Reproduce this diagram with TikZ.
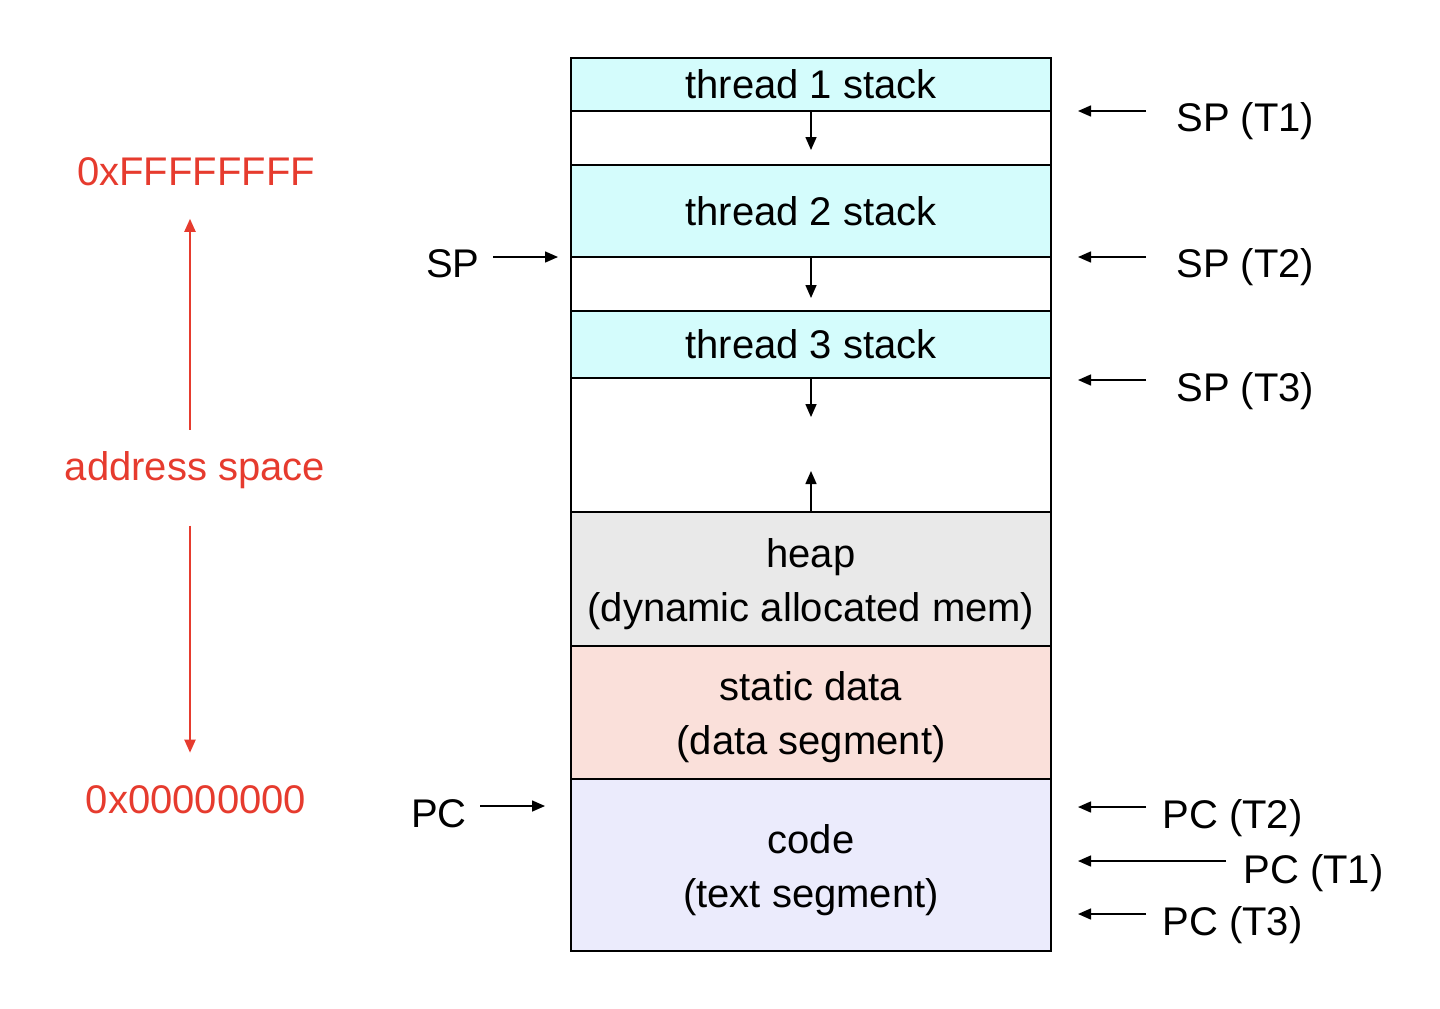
\documentclass[tikz,border=0pt]{standalone}
\usepackage{fontspec}
\setmainfont{Liberation Sans}
\usetikzlibrary{positioning}
\usetikzlibrary{arrows.meta}
\definecolor{stackfill}{HTML}{D4FCFC}
\definecolor{heapfill}{HTML}{E9E9E9}
\definecolor{datafill}{HTML}{FAE0DA}
\definecolor{codefill}{HTML}{EBEBFC}
\definecolor{addrred}{HTML}{E63B2E}
\tikzset{
    node distance=0pt,
    segment/.style={
        draw,
        line width=1pt,
        minimum width=240pt,
        inner sep=0pt,
        outer sep=0pt,
        align=center,
        font=\fontsize{20}{27}\selectfont
    },
    twoline/.style={
        text height=46.5pt
    },
    lbl/.style={
        inner sep=0pt,
        font=\fontsize{20}{27}\selectfont
    },
    ptr/.style={
        draw,
        -{Triangle[length=6.5pt,width=5.5pt]},
        line width=0.75pt
    },
    addr/.style={
        ptr,
        draw=addrred,
        line width=1pt
    }
}
\begin{document}
\begin{tikzpicture}[x=0.5pt, y=-0.5pt]
                \useasboundingbox (0,0) rectangle (1440,1008);

                % memory layout, top to bottom
                \node[segment, fill=stackfill, minimum height=26.5pt, anchor=north west] (t1) at (571,58) {thread 1 stack};
                \node[segment, minimum height=27pt, below=of t1] (g1) {};
                \node[segment, fill=stackfill, minimum height=46pt, below=of g1] (t2) {thread 2 stack};
                \node[segment, minimum height=27pt, below=of t2] (g2) {};
                \node[segment, fill=stackfill, minimum height=33.5pt, below=of g2] (t3) {thread 3 stack};
                \node[segment, minimum height=67pt, below=of t3] (free) {};
                \node[segment, twoline, fill=heapfill, minimum height=67pt, below=of free] (heap) {heap\\(dynamic allocated mem)};
                \node[segment, twoline, fill=datafill, minimum height=66.5pt, below=of heap] (data) {static data\\(data segment)};
                \node[segment, twoline, fill=codefill, minimum height=86pt, below=of data] (code) {code\\(text segment)};

                % growth directions
                \draw[ptr] (t1.south) -- ([yshift=-19.5pt]t1.south);
                \draw[ptr] (t2.south) -- ([yshift=-20.5pt]t2.south);
                \draw[ptr] (t3.south) -- ([yshift=-19.5pt]t3.south);
                \draw[ptr] (heap.north) -- ([yshift=20.5pt]heap.north);

                % stack and program counters
                \node[lbl, anchor=base east] (sp) at (480,277) {SP};
                \node[lbl, anchor=base east] (pc) at (467,827) {PC};
                \node[lbl, anchor=base west] (spt1) at (1176,131) {SP (T1)};
                \node[lbl, anchor=base west] (spt2) at (1176,277) {SP (T2)};
                \node[lbl, anchor=base west] (spt3) at (1176,401) {SP (T3)};
                \node[lbl, anchor=base west] (pct2) at (1162,828) {PC (T2)};
                \node[lbl, anchor=base west] (pct1) at (1243,883) {PC (T1)};
                \node[lbl, anchor=base west] (pct3) at (1162,935) {PC (T3)};

                \draw[ptr] ([xshift=6.5pt]sp.east |- t2.south) -- ([xshift=-6.5pt]t2.south west);
                \draw[ptr] ([xshift=6.5pt,yshift=-13.5pt]pc.east |- code.north west) -- ([xshift=-13pt,yshift=-13.5pt]code.north west);
                \draw[ptr] ([xshift=-15pt]spt1.west |- t1.south) -- ([xshift=13.5pt]t1.south east);
                \draw[ptr] ([xshift=-15pt]spt2.west |- t2.south) -- ([xshift=13.5pt]t2.south east);
                \draw[ptr] ([xshift=-15pt,yshift=-1pt]spt3.west |- t3.south) -- ([xshift=13.5pt,yshift=-1pt]t3.south east);
                \draw[ptr] ([xshift=-8pt,yshift=-14pt]pct2.west |- code.north east) -- ([xshift=13.5pt,yshift=-14pt]code.north east);
                \draw[ptr] ([xshift=-8.5pt,yshift=-41pt]pct1.west |- code.north east) -- ([xshift=13.5pt,yshift=-41pt]code.north east);
                \draw[ptr] ([xshift=-8pt,yshift=-67.5pt]pct3.west |- code.north east) -- ([xshift=13.5pt,yshift=-67.5pt]code.north east);

                % address range
                \node[lbl, text=addrred, anchor=base] (hi) at (196,185) {0xFFFFFFFF};
                \node[lbl, text=addrred, anchor=base] (space) at (195,480) {address space};
                \node[lbl, text=addrred, anchor=base] (lo) at (196,813) {0x00000000};

                \draw[addr, shorten <=10.5pt, shorten >=16.5pt] ([xshift=-2.5pt]space.north) -- ([xshift=-2.5pt]space.north |- hi.south);
                \draw[addr, shorten <=18.5pt, shorten >=16pt] ([xshift=-2.5pt]space.south) -- ([xshift=-2.5pt]space.south |- lo.north);
            \end{tikzpicture}
\end{document}
